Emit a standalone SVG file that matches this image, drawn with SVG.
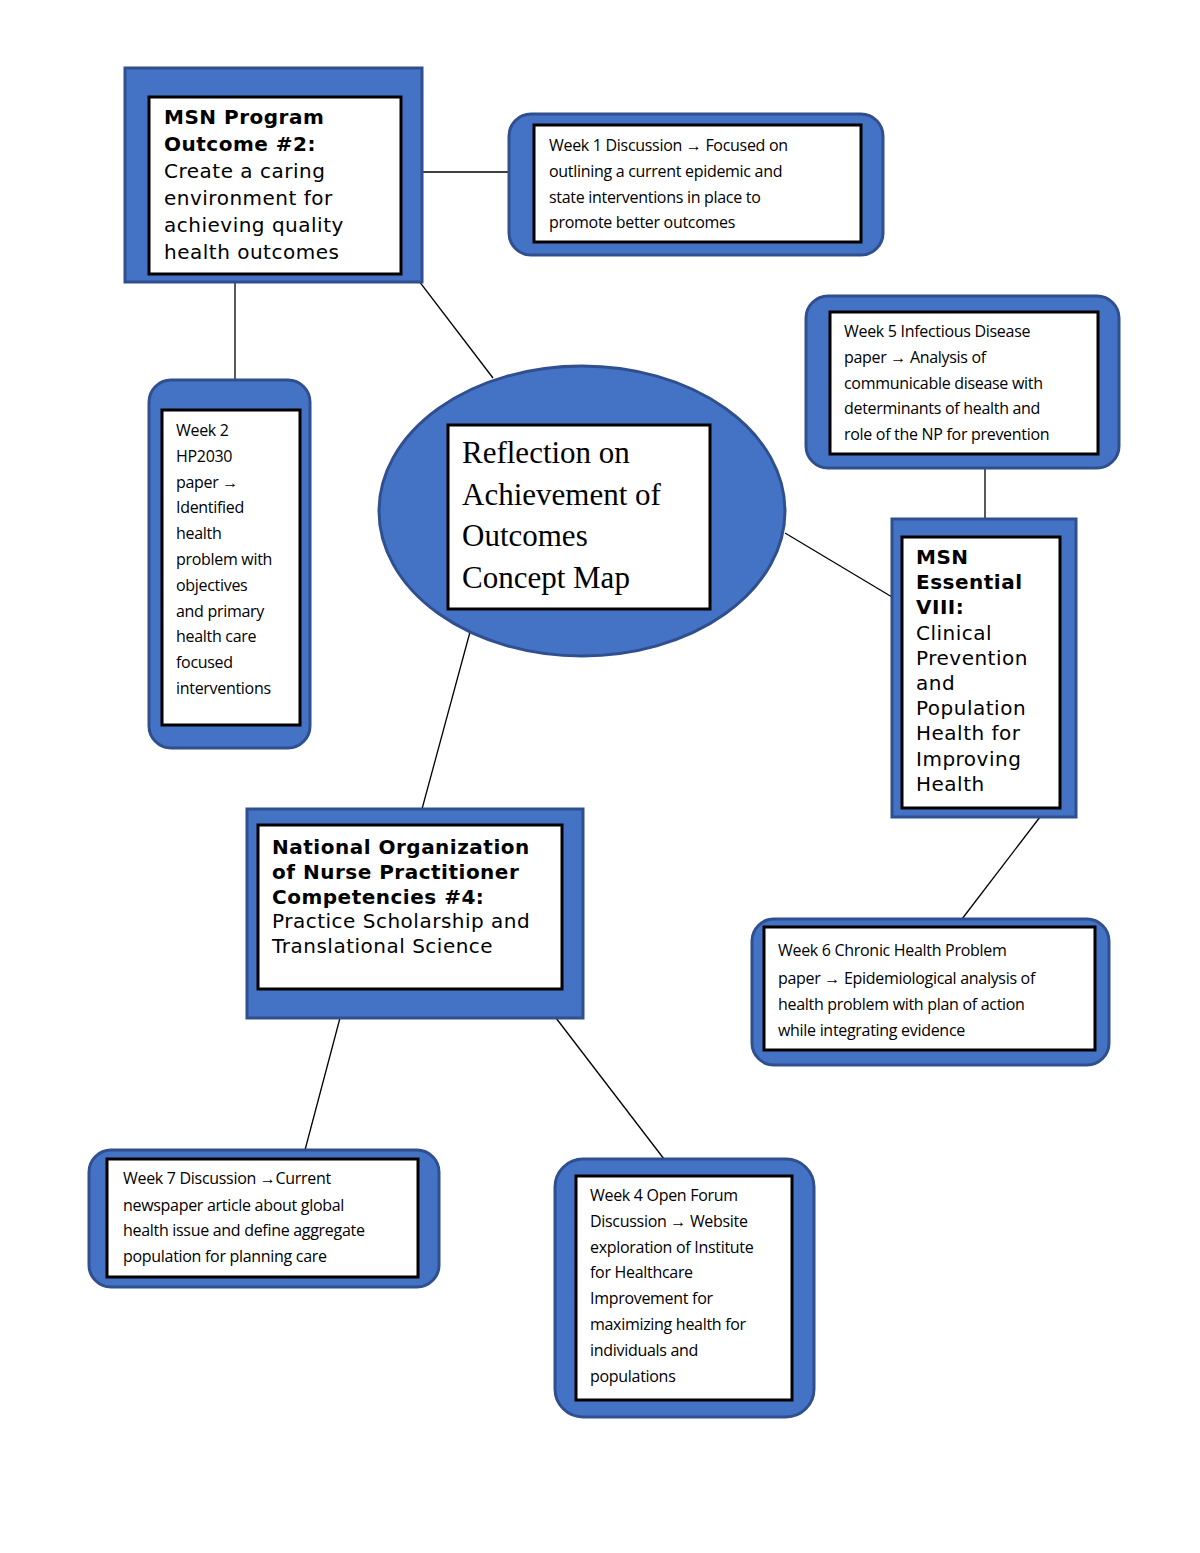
<svg xmlns="http://www.w3.org/2000/svg" width="1200" height="1553" viewBox="0 0 1200 1553">
<style>
.b{fill:#4472c4;stroke:#2f4f8f;stroke-width:3}
.w{fill:#fff;stroke:#000;stroke-width:3}
.c{stroke:#000;stroke-width:1.3;fill:none}
.v{font-family:"DejaVu Sans",Verdana,sans-serif;font-size:20px;fill:#000;letter-spacing:0.5px}
.vb{font-weight:bold}
.s{font-family:"Open Sans","Liberation Sans",sans-serif;font-size:16px;fill:#000;letter-spacing:-0.3px}
.t{font-family:"Liberation Serif","Times New Roman",serif;font-size:31px;fill:#000}
</style>
<rect width="1200" height="1553" fill="#fff"/>
<g id="connectors">
<line class="c" x1="422" y1="172" x2="509" y2="172"/>
<line class="c" x1="380" y1="230" x2="493" y2="378"/>
<line class="c" x1="235" y1="282" x2="235" y2="380"/>
<line class="c" x1="785" y1="533" x2="892" y2="597"/>
<line class="c" x1="985" y1="468" x2="985" y2="519"/>
<line class="c" x1="1040" y1="817" x2="962" y2="919"/>
<line class="c" x1="470" y1="632" x2="422" y2="809"/>
<line class="c" x1="340" y1="1018" x2="305" y2="1150"/>
<line class="c" x1="556" y1="1018" x2="664" y2="1159"/>
</g>
<g id="outcome2">
<rect class="b" x="125" y="68" width="297" height="214"/>
<rect class="w" x="149" y="97" width="252" height="177"/>
<text class="v" x="164" y="124"><tspan class="vb">MSN Program</tspan><tspan class="vb" x="164" dy="27">Outcome #2:</tspan><tspan x="164" dy="27">Create a caring</tspan><tspan x="164" dy="27">environment for</tspan><tspan x="164" dy="27">achieving quality</tspan><tspan x="164" dy="27">health outcomes</tspan></text>
</g>
<g id="week1">
<rect class="b" x="509" y="114" width="374" height="141" rx="22"/>
<rect class="w" x="534" y="125" width="327" height="117"/>
<text class="s" x="549" y="151"><tspan>Week 1 Discussion → Focused on</tspan><tspan x="549" dy="26">outlining a current epidemic and</tspan><tspan x="549" dy="26">state interventions in place to</tspan><tspan x="549" dy="25">promote better outcomes</tspan></text>
</g>
<g id="week5">
<rect class="b" x="806" y="296" width="313" height="172" rx="22"/>
<rect class="w" x="830" y="312" width="268" height="142"/>
<text class="s" x="844" y="337"><tspan>Week 5 Infectious Disease</tspan><tspan x="844" dy="26">paper → Analysis of</tspan><tspan x="844" dy="26">communicable disease with</tspan><tspan x="844" dy="25">determinants of health and</tspan><tspan x="844" dy="26">role of the NP for prevention</tspan></text>
</g>
<g id="week2">
<rect class="b" x="149" y="380" width="161" height="368" rx="22"/>
<rect class="w" x="162" y="410" width="138" height="315"/>
<text class="s" x="176" y="436"><tspan>Week 2</tspan><tspan x="176" dy="25.8">HP2030</tspan><tspan x="176" dy="25.8">paper →</tspan><tspan x="176" dy="25.8">Identified</tspan><tspan x="176" dy="25.8">health</tspan><tspan x="176" dy="25.8">problem with</tspan><tspan x="176" dy="25.8">objectives</tspan><tspan x="176" dy="25.8">and primary</tspan><tspan x="176" dy="25.8">health care</tspan><tspan x="176" dy="25.8">focused</tspan><tspan x="176" dy="25.8">interventions</tspan></text>
</g>
<g id="center">
<ellipse class="b" cx="582" cy="511" rx="203" ry="145"/>
<rect class="w" x="448" y="425" width="262" height="184"/>
<text class="t" x="462" y="463"><tspan>Reflection on</tspan><tspan x="462" dy="41.5">Achievement of</tspan><tspan x="462" dy="41.5">Outcomes</tspan><tspan x="462" dy="41.5">Concept Map</tspan></text>
</g>
<g id="essential8">
<rect class="b" x="892" y="519" width="184" height="298"/>
<rect class="w" x="902" y="537" width="158" height="271"/>
<text class="v" x="916" y="564"><tspan class="vb">MSN</tspan><tspan class="vb" x="916" dy="25.2">Essential</tspan><tspan class="vb" x="916" dy="25.2">VIII:</tspan><tspan x="916" dy="25.2">Clinical</tspan><tspan x="916" dy="25.2">Prevention</tspan><tspan x="916" dy="25.2">and</tspan><tspan x="916" dy="25.2">Population</tspan><tspan x="916" dy="25.2">Health for</tspan><tspan x="916" dy="25.2">Improving</tspan><tspan x="916" dy="25.2">Health</tspan></text>
</g>
<g id="nonpf">
<rect class="b" x="247" y="809" width="336" height="209"/>
<rect class="w" x="258" y="825" width="304" height="164"/>
<text class="v" x="272" y="854"><tspan class="vb">National Organization</tspan><tspan class="vb" x="272" dy="24.8">of Nurse Practitioner</tspan><tspan class="vb" x="272" dy="24.8">Competencies #4:</tspan><tspan x="272" dy="24.8">Practice Scholarship and</tspan><tspan x="272" dy="24.8">Translational Science</tspan></text>
</g>
<g id="week6">
<rect class="b" x="752" y="919" width="357" height="146" rx="22"/>
<rect class="w" x="764" y="927" width="331" height="123"/>
<text class="s" x="778" y="956"><tspan>Week 6 Chronic Health Problem</tspan><tspan x="778" dy="28">paper → Epidemiological analysis of</tspan><tspan x="778" dy="26">health problem with plan of action</tspan><tspan x="778" dy="26">while integrating evidence</tspan></text>
</g>
<g id="week7">
<rect class="b" x="89" y="1150" width="350" height="137" rx="22"/>
<rect class="w" x="107" y="1159" width="311" height="118"/>
<text class="s" x="123" y="1184"><tspan>Week 7 Discussion →Current</tspan><tspan x="123" dy="26.5">newspaper article about global</tspan><tspan x="123" dy="25.5">health issue and define aggregate</tspan><tspan x="123" dy="25.5">population for planning care</tspan></text>
</g>
<g id="week4">
<rect class="b" x="555" y="1159" width="259" height="258" rx="28"/>
<rect class="w" x="576" y="1176" width="216" height="224"/>
<text class="s" x="590" y="1201"><tspan>Week 4 Open Forum</tspan><tspan x="590" dy="25.8">Discussion → Website</tspan><tspan x="590" dy="25.8">exploration of Institute</tspan><tspan x="590" dy="25.8">for Healthcare</tspan><tspan x="590" dy="25.8">Improvement for</tspan><tspan x="590" dy="25.8">maximizing health for</tspan><tspan x="590" dy="25.8">individuals and</tspan><tspan x="590" dy="25.8">populations</tspan></text>
</g>
</svg>
